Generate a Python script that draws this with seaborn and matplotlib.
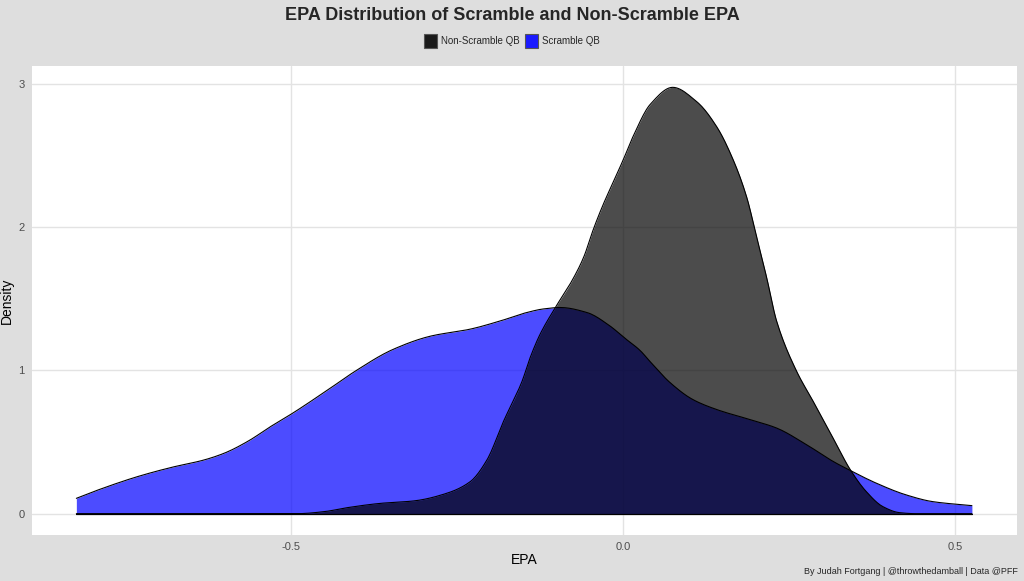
import numpy as np
import pandas as pd
import matplotlib
matplotlib.use("Agg")
import matplotlib.pyplot as plt
from matplotlib.patches import Patch
import seaborn as sns

# Density curve of Scramble QB EPA
scramble_epa = [-0.823, -0.79, -0.73, -0.68, -0.63, -0.60, -0.565, -0.53, -0.497,
                -0.44, -0.403, -0.346, -0.289, -0.231, -0.185, -0.145, -0.12,
                -0.0946, -0.0545, -0.0195, 0.0, 0.0255, 0.041, 0.071, 0.105,
                0.141, 0.191, 0.231, 0.276, 0.316, 0.343, 0.381, 0.426, 0.466, 0.525]
scramble_density = [0.107, 0.166, 0.26, 0.323, 0.376, 0.423, 0.505, 0.61, 0.703,
                    0.879, 0.996, 1.148, 1.241, 1.288, 1.346, 1.405, 1.43,
                    1.44, 1.405, 1.31, 1.235, 1.14, 1.06, 0.914, 0.797,
                    0.727, 0.657, 0.598, 0.482, 0.365, 0.299, 0.213, 0.131, 0.084, 0.056]

# Density curve of Non-Scramble QB EPA
nonscramble_epa = [-0.823, -0.55, -0.49, -0.45, -0.415, -0.365, -0.315, -0.265,
                   -0.23, -0.205, -0.18, -0.152, -0.14, -0.125, -0.102, -0.077,
                   -0.0595, -0.0445, -0.0295, -0.0145, 0.0, 0.0155, 0.041, 0.0746,
                   0.111, 0.141, 0.166, 0.186, 0.201, 0.216, 0.231, 0.261, 0.286,
                   0.316, 0.343, 0.366, 0.391, 0.416, 0.44, 0.525]
nonscramble_density = [0.0, 0.0, 0.0, 0.014, 0.042, 0.072, 0.089, 0.143,
                       0.224, 0.375, 0.645, 0.926, 1.089, 1.253, 1.44, 1.627,
                       1.79, 1.99, 2.165, 2.32, 2.47, 2.64, 2.86, 2.978,
                       2.877, 2.702, 2.468, 2.211, 1.931, 1.650, 1.346, 0.996, 0.785,
                       0.528, 0.299, 0.154, 0.049, 0.007, 0.0, 0.0]

groups = ["Non-Scramble QB", "Scramble QB"]
fill_colors = {"Non-Scramble QB": "black", "Scramble QB": "blue"}
key_colors = {"Non-Scramble QB": "#1a1a1a", "Scramble QB": "#1a1aff"}

title = "EPA Distribution of Scramble and Non-Scramble EPA"
caption = "By Judah Fortgang | @throwthedamball | Data @PFF"
x_ticks = [-0.5, 0.0, 0.5]
x_ticklabels = ["-0.5", "0.0", "0.5"]
y_ticks = [0, 1, 2, 3]

df = pd.concat([
    pd.DataFrame({"EPA": nonscramble_epa, "Density": nonscramble_density, "group": groups[0]}),
    pd.DataFrame({"EPA": scramble_epa, "Density": scramble_density, "group": groups[1]}),
])


def smooth_path(x, y, n=12):
    """Render a read curve as a smooth monotone-cubic path (drawing only)."""
    x = np.asarray(x, float)
    y = np.asarray(y, float)
    h = np.diff(x)
    d = np.diff(y) / h
    m = np.zeros_like(y)
    m[0], m[-1] = d[0], d[-1]
    for i in range(1, len(x) - 1):
        if d[i - 1] * d[i] <= 0:
            m[i] = 0.0
        else:
            w1 = 2 * h[i] + h[i - 1]
            w2 = h[i] + 2 * h[i - 1]
            m[i] = (w1 + w2) / (w1 / d[i - 1] + w2 / d[i])
    xs, ys = [], []
    for i in range(len(x) - 1):
        t = np.linspace(0, 1, n, endpoint=False)
        h00 = 2 * t**3 - 3 * t**2 + 1
        h10 = t**3 - 2 * t**2 + t
        h01 = -2 * t**3 + 3 * t**2
        h11 = t**3 - t**2
        xs.append(x[i] + t * h[i])
        ys.append(h00 * y[i] + h10 * h[i] * m[i] + h01 * y[i + 1] + h11 * h[i] * m[i + 1])
    xs.append([x[-1]])
    ys.append([y[-1]])
    return np.concatenate(xs), np.clip(np.concatenate(ys), 0, None)


sns.set_theme(style="whitegrid")
plt.rcParams["font.family"] = ["Liberation Sans", "DejaVu Sans"]

bg = "#dedede"
fig = plt.figure(figsize=(10.24, 5.81), dpi=100, facecolor=bg)
ax = fig.add_axes([0.0309, 0.0792, 0.9619, 0.8072])
ax.set_facecolor("white")

draw_order = ["Scramble QB", "Non-Scramble QB"]
for k, g in enumerate(draw_order):
    d = df[df["group"] == g]
    sx, sy = smooth_path(d["EPA"].values, d["Density"].values)
    ax.fill_between(sx, 0, sy, color=fill_colors[g], alpha=0.7, linewidth=0,
                    zorder=2 + k)
    sns.lineplot(x=sx, y=sy, ax=ax, color="black", linewidth=0.8,
                 sort=False, estimator=None, zorder=2.5 + k)
    ax.plot([sx.min(), sx.max()], [0, 0], color="black", linewidth=0.8, zorder=2.5 + k)

ax.set_xlim(-0.8903, 0.5923)
ax.set_ylim(-0.149, 3.127)
ax.set_xticks(x_ticks)
ax.set_xticklabels(x_ticklabels)
ax.set_yticks(y_ticks)
ax.grid(True, color="#e3e3e3", linewidth=1.0)
ax.set_axisbelow(True)
for s in ax.spines.values():
    s.set_visible(False)
ax.tick_params(axis="both", which="major", length=3, width=0.8, color="#4d4d4d",
               labelsize=8, labelcolor="#4d4d4d", pad=2)
ax.set_xlabel("EPA", fontsize=10, color="black", labelpad=1)
ax.set_ylabel("Density", fontsize=10, color="black", labelpad=3)

fig.text(0.5, 0.974, title, ha="center", va="center", fontsize=13, fontweight="bold")
handles = [Patch(facecolor=key_colors[g], edgecolor="#555555", linewidth=0.8, label=g)
           for g in groups]
fig.legend(handles=handles, loc="center", bbox_to_anchor=(0.5, 0.929), ncol=2,
           frameon=False, fontsize=7, handlelength=1.3, handleheight=1.9,
           columnspacing=0.5, handletextpad=0.5)
fig.text(0.994, 0.017, caption, ha="right", va="center", fontsize=6.5)

fig.savefig("out.png", dpi=100, facecolor=bg)
